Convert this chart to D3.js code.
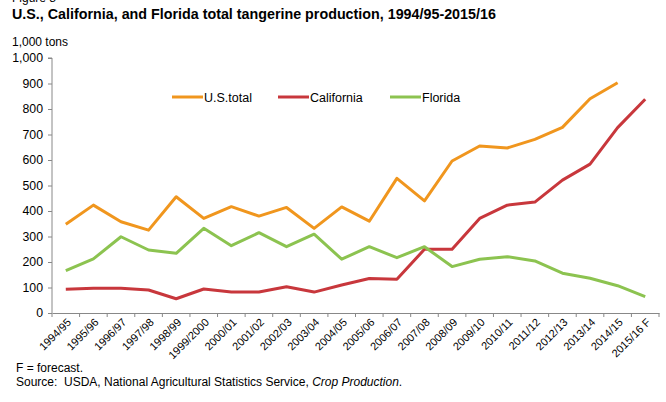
<!DOCTYPE html>
<html><head><meta charset="utf-8">
<script src="https://d3js.org/d3.v7.min.js"></script>
<style>body{margin:0;background:#fff;font-family:"Liberation Sans",Arial,sans-serif;}</style>
</head><body><svg id="c" width="666" height="402"></svg>
<script>
const categories = ["1994/95","1995/96","1996/97","1997/98","1998/99","1999/2000","2000/01","2001/02","2002/03","2003/04","2004/05","2005/06","2006/07","2007/08","2008/09","2009/10","2010/11","2011/12","2012/13","2013/14","2014/15","2015/16 F"];
const usTotal = [348,423,358,325,456,371,417,380,414,332,416,360,528,440,596,655,647,681,728,840,903,null];
const california = [93,97,97,90,56,94,82,82,103,82,110,135,132,250,250,371,423,435,521,584,727,838];
const florida = [166,212,299,247,234,332,264,315,260,309,211,260,217,260,182,211,221,204,156,136,107,64];
const yTicks = [0,100,200,300,400,500,600,700,800,900,1000];
const seriesNames = ["U.S.total","California","Florida"];
const colors = ["#F0961E","#C8373C","#8CC350"];

const svg = d3.select("#c");
const m = {l:52, r:659, t:58, b:313};
const x = d3.scaleBand().domain(categories).range([m.l, m.r]);
const y = d3.scaleLinear().domain([0,1000]).range([m.b, m.t]);

svg.append("text").attr("x",12).attr("y",2).attr("font-size",12).attr("fill","#000").text("Figure 8");
svg.append("text").attr("x",12).attr("y",19).attr("font-size",14.3).attr("font-weight","bold").attr("fill","#000")
  .text("U.S., California, and Florida total tangerine production, 1994/95-2015/16");
svg.append("text").attr("x",12).attr("y",46).attr("font-size",12).attr("fill","#000").text("1,000 tons");

// y axis
const ya = svg.append("g").attr("transform",`translate(${m.l},0)`)
  .call(d3.axisLeft(y).tickValues(yTicks).tickSize(4).tickPadding(5).tickFormat(d3.format(",")));
ya.select(".domain").attr("stroke","#888").attr("d",`M-4,${y(1000)}H0V${m.b}`);
ya.selectAll(".tick line").attr("stroke","#888");
ya.selectAll(".tick text").attr("font-size",12.3).attr("fill","#000").attr("font-family","Liberation Sans, Arial, sans-serif");

// x axis
const xa = svg.append("g").attr("transform",`translate(0,${m.b})`)
  .call(d3.axisBottom(x).tickSize(0).tickPadding(0));
xa.select(".domain").attr("stroke","#888");
xa.selectAll(".tick line").remove();
const bounds = categories.map(c=>x(c)).concat([m.r]);
xa.selectAll("line.bt").data(bounds).enter().append("line").attr("class","bt")
  .attr("x1",d=>d).attr("x2",d=>d).attr("y1",0).attr("y2",4).attr("stroke","#888");
xa.selectAll(".tick text").attr("font-size",11).attr("fill","#000")
  .attr("font-family","Liberation Sans, Arial, sans-serif")
  .attr("text-anchor","end").attr("dy",0)
  .attr("transform","translate(6,10) rotate(-45)");

const cx = d => x(d) + x.bandwidth()/2;
const line = d3.line().defined(d=>d.v!=null).x(d=>cx(d.c)).y(d=>y(d.v));
[usTotal, california, florida].forEach((arr,i)=>{
  const data = categories.map((c,j)=>({c, v:arr[j]}));
  svg.append("path").datum(data).attr("d",line).attr("fill","none")
    .attr("stroke",colors[i]).attr("stroke-width",3).attr("stroke-linejoin","round");
});

// legend
const lx = [172,278,390];
seriesNames.forEach((n,i)=>{
  svg.append("line").attr("x1",lx[i]).attr("x2",lx[i]+31).attr("y1",97).attr("y2",97)
    .attr("stroke",colors[i]).attr("stroke-width",3);
  svg.append("text").attr("x",lx[i]+32).attr("y",101.5).attr("font-size",12.5).attr("fill","#000").text(n);
});

svg.append("text").attr("x",16).attr("y",372).attr("font-size",12).attr("fill","#000").text("F = forecast.");
const s = svg.append("text").attr("x",16).attr("y",386).attr("font-size",12).attr("fill","#000").style("white-space","pre");
s.append("tspan").text("Source:  USDA, National Agricultural Statistics Service, ");
s.append("tspan").attr("font-style","italic").text("Crop Production");
s.append("tspan").text(".");
</script></body></html>
